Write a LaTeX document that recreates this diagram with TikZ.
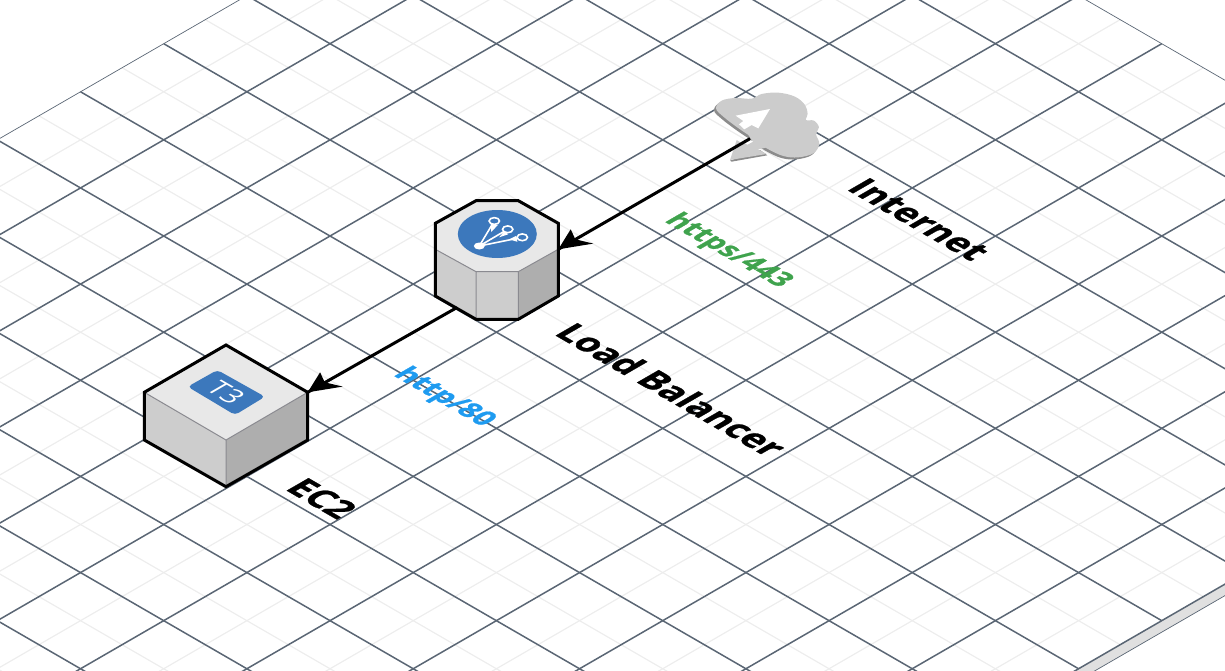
\documentclass[tikz,border=0pt]{standalone}
\usepackage{fontspec}
\setmainfont[BoldFeatures={FakeBold=1}]{Open Sans}
\definecolor{gridmajor}{HTML}{5A6674}
\definecolor{gridminor}{HTML}{EDEDED}
\definecolor{slab}{HTML}{E0E0E0}
\definecolor{topface}{HTML}{E8E8E8}
\definecolor{leftface}{HTML}{CDCDCD}
\definecolor{rightface}{HTML}{AEAEAE}
\definecolor{edgegray}{HTML}{8A8A90}
\definecolor{iconblue}{HTML}{3C78BC}
\definecolor{cloudgray}{HTML}{CCCCCC}
\definecolor{cloudshadow}{HTML}{8C8C8C}
\definecolor{httpsgreen}{HTML}{3FA34D}
\definecolor{httpblue}{HTML}{1E9BF0}
\tikzset{
  isotext/.style={transform shape,cm={0.866,-0.5,0.866,0.5,(0,0)},inner sep=0pt,anchor=base west},
  namelabel/.style={isotext,font=\fontsize{35}{38}\selectfont\bfseries,text=black},
  linklabel/.style={isotext,font=\fontsize{28}{32}\selectfont\bfseries},
  major/.style={draw=gridmajor,line width=1.5pt},
  minor/.style={draw=gridminor,line width=1.2pt},
  thinedge/.style={draw=gridmajor,line width=0.7pt},
  outline/.style={draw=black,line width=3pt,line join=miter},
  inneredge/.style={draw=edgegray,line width=1pt},
  connector/.style={draw=black,line width=3pt},
  pics/headtip/.style={code={\fill[black] (0,0) -- (12.4,-20) -- (17,-10) -- (35,-5.7) -- cycle;}},
  iconarrow/.style={draw=white,line width=1.6pt},
  iconring/.style={draw=white,fill=iconblue,line width=1.6pt},
}
\begin{document}
\begin{tikzpicture}[x=1pt,y=-1pt]
\useasboundingbox (0,0) rectangle (1225,671);
\clip (0,0) rectangle (1225,671);
\def\ox{163.7}\def\oy{43.7}\def\sx{83.17}\def\sy{48.08}
\newcommand{\lat}[2]{(\ox+\sx*#1+\sx*#2,\oy-\sy*#1+\sy*#2)}
% slab under the grid
\coordinate (slabA) at (995.4,716.8);
\coordinate (slabB) at (1328.1,524.5);
\fill[slab] (slabA) -- (slabB) -- ([yshift=-11.5pt]slabB) -- ([yshift=-11.5pt]slabA) -- cycle;
\draw[thinedge] ([yshift=-11.5pt]slabA) -- ([yshift=-11.5pt]slabB);
% minor grid
\foreach \a in {-11.5,-10.5,...,5.5} \draw[minor] \lat{\a}{0} -- \lat{\a}{12};
\foreach \b in {0.5,1.5,...,11.5} \draw[minor] \lat{-12}{\b} -- \lat{6}{\b};
% major grid
\foreach \a in {-12,...,5} \draw[major] \lat{\a}{0} -- \lat{\a}{12};
\foreach \b in {1,...,12} \draw[major] \lat{-12}{\b} -- \lat{6}{\b};
\draw[thinedge] \lat{-12}{0} -- \lat{6}{0} -- \lat{6}{12};
% EC2 block
\coordinate (ec2top) at (226,345);
\coordinate (ec2right) at (307.7,392.3);
\coordinate (ec2left) at (144.3,392.3);
\coordinate (ec2mid) at (226,440);
\coordinate (ec2bottom) at (226,486.7);
\coordinate (ec2lb) at (144.3,440);
\coordinate (ec2rb) at (307.7,440);
\fill[leftface] (ec2left) -- (ec2mid) -- (ec2bottom) -- (ec2lb) -- cycle;
\fill[rightface] (ec2right) -- (ec2mid) -- (ec2bottom) -- (ec2rb) -- cycle;
\fill[topface] (ec2top) -- (ec2right) -- (ec2mid) -- (ec2left) -- cycle;
\draw[inneredge] (ec2left) -- (ec2mid) -- (ec2right) (ec2mid) -- (ec2bottom);
\draw[outline] (ec2top) -- (ec2right) -- (ec2rb) -- (ec2bottom) -- (ec2lb) -- (ec2left) -- cycle;
\fill[iconblue,rounded corners=4pt] (187.7,386.7) -- (217.3,370) -- (265,396.7) -- (235,415) -- cycle;
\node[isotext,anchor=center,text=white,font=\fontsize{27}{30}\selectfont] (t3) at (226,392.5) {T3};
% Load balancer
\coordinate (lb1) at (476,200.7);
\coordinate (lb2) at (518.3,200.7);
\coordinate (lb3) at (558.3,223.3);
\coordinate (lb4) at (558.3,249.3);
\coordinate (lb5) at (518.3,271.7);
\coordinate (lb6) at (476,271.7);
\coordinate (lb7) at (435.3,249.3);
\coordinate (lb8) at (435.3,223.3);
\coordinate (lb9) at (558.3,296);
\coordinate (lb10) at (518.3,319.3);
\coordinate (lb11) at (476,319.3);
\coordinate (lb12) at (435.3,296);
\coordinate (lbout) at (457,307.5);
\fill[leftface] (lb7) -- (lb6) -- (lb5) -- (lb10) -- (lb11) -- (lb12) -- cycle;
\fill[rightface] (lb4) -- (lb5) -- (lb10) -- (lb9) -- cycle;
\fill[topface] (lb1) -- (lb2) -- (lb3) -- (lb4) -- (lb5) -- (lb6) -- (lb7) -- (lb8) -- cycle;
\draw[inneredge] (lb7) -- (lb6) -- (lb5) -- (lb4) (lb6) -- (lb11) (lb5) -- (lb10);
\draw[outline] (lb1) -- (lb2) -- (lb3) -- (lb9) -- (lb10) -- (lb11) -- (lb12) -- (lb8) -- cycle;
\fill[iconblue] (497.3,234) ellipse [x radius=39.5,y radius=24];
\coordinate (hub) at (479.3,246);
\coordinate (r1) at (494.3,221);
\coordinate (r2) at (507.7,229.3);
\coordinate (r3) at (522.3,237.3);
\fill[white] (hub) ellipse [x radius=5.5,y radius=3.5];
\draw[iconarrow] (hub) -- (r1) (hub) -- (r2) (hub) -- (r3);
\fill[white] (r1) ++(-3.5,3) -- ++(7,1) -- ++(-6.5,7) -- cycle;
\fill[white] (r2) ++(-3.5,2) -- ++(4,3) -- ++(-9,3) -- cycle;
\fill[white] (r3) ++(-6,-1.5) -- ++(1,6) -- ++(-8,-2.5) -- cycle;
\draw[iconring] (r1) ellipse [x radius=5.2,y radius=3.4];
\draw[iconring] (r2) ellipse [x radius=5.2,y radius=3.4];
\draw[iconring] (r3) ellipse [x radius=5.2,y radius=3.4];
% Cloud
\begin{scope}[shift={(680,70)},x=0.3333pt,y=-0.3333pt]
\def\cloudpath{plot[smooth cycle,tension=0.6] coordinates {(108,115) (125,92) (165,84) (215,86) (245,72) (295,68) (345,80) (375,105) (383,132) (378,150) (402,152) (417,172) (408,192) (418,222) (400,250) (355,262) (310,258) (260,235) (225,208) (180,178) (130,140)}}
\fill[cloudshadow] (150,272) -- (155,275) -- (262,256) -- (240,240) -- cycle;
\fill[cloudgray] (150,270) -- (170,210) -- (190,223) -- (217,205) -- (250,225) -- (234,238) -- (260,252) -- cycle;
\fill[cloudshadow] [shift={(-6,6)}] \cloudpath;
\fill[cloudgray] \cloudpath;
\fill[cloudgray] (205,195) -- (250,180) -- (262,232) -- (234,238) -- cycle;
\fill[white] (167,137) -- (270,117) -- (235,175) -- (215,165) -- (193,178) -- (177,163) -- (190,153) -- cycle;
\fill[white] (188,215) -- (205,207) -- (219,215) -- (202,224) -- cycle;
\coordinate (cloudport) at (210,206);
\end{scope}
% Connectors
\draw[connector] (cloudport) -- (lb4);
\pic at (lb4) {headtip};
\draw[connector] (lbout) -- (ec2right);
\pic at (ec2right) {headtip};
% Labels
\node[namelabel] (inetlabel) at (845.5,189) {Internet};
\node[namelabel] (lblabel) at (553,334) {Load Balancer};
\node[namelabel] (ec2label) at (284,489) {EC2};
\node[linklabel,text=httpsgreen] (httpslabel) at (663.5,221) {https/443};
\node[linklabel,text=httpblue] (httplabel) at (392.5,375) {http/80};
\end{tikzpicture}
\end{document}
